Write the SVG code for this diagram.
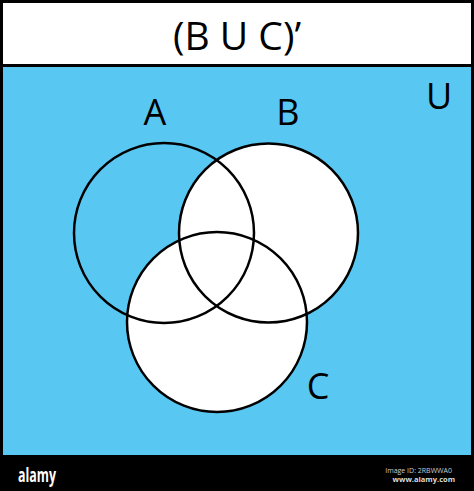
<svg xmlns="http://www.w3.org/2000/svg" width="474" height="491" viewBox="0 0 474 491">
<style>
.lbl{font-family:"Open Sans","Liberation Sans",sans-serif;font-size:36px;fill:#000;text-anchor:middle}
.c{stroke:#000;stroke-width:2.5;fill:none}
</style>
<rect x="0" y="0" width="474" height="491" fill="#000"/>
<rect x="3" y="3" width="468" height="61" fill="#fff"/>
<rect x="3" y="67" width="468" height="388" fill="#58c8f2"/>
<text class="lbl" x="237" y="50" font-size="39" style="font-size:39px">(B U C)’</text>
<g id="fills">
<circle cx="268.5" cy="233" r="89.5" fill="#fff"/>
<circle cx="217" cy="322" r="90" fill="#fff"/>
</g>
<g id="A"><circle class="c" cx="164" cy="233" r="90"/><text class="lbl" x="155" y="125">A</text></g>
<g id="B"><circle class="c" cx="268.5" cy="233" r="89.5"/><text class="lbl" x="288" y="125">B</text></g>
<g id="C"><circle class="c" cx="217" cy="322" r="90"/><text class="lbl" x="318" y="399">C</text></g>
<g id="U"><text class="lbl" x="439" y="109">U</text></g>
<g id="footer" font-family="'Open Sans','Liberation Sans',sans-serif" fill="#fff">
<text x="18" y="482" font-size="20" font-weight="bold" textLength="38" lengthAdjust="spacingAndGlyphs">alamy</text>
<text x="452" y="473" font-size="7" fill="#ccc" text-anchor="end">Image ID: 2RBWWA0</text>
<text x="455" y="482" font-size="7.5" font-weight="bold" fill="#ddd" text-anchor="end">www.alamy.com</text>
</g>
</svg>
